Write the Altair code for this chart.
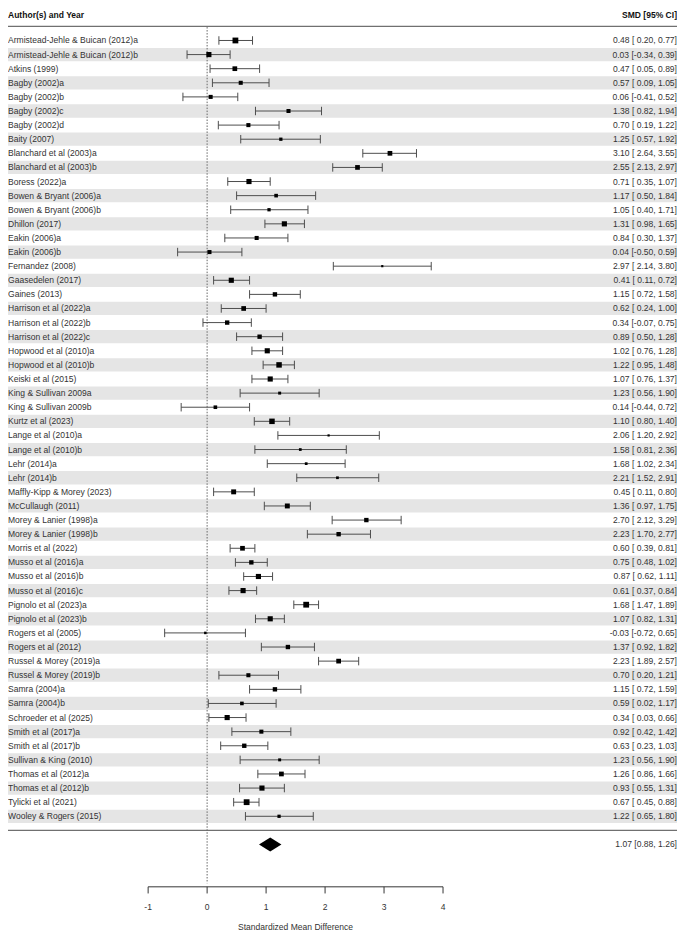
import altair as alt
import pandas as pd

labels = [
    "Armistead-Jehle & Buican (2012)a", "Armistead-Jehle & Buican (2012)b", "Atkins (1999)",
    "Bagby (2002)a", "Bagby (2002)b", "Bagby (2002)c", "Bagby (2002)d", "Baity (2007)",
    "Blanchard et al (2003)a", "Blanchard et al (2003)b", "Boress (2022)a",
    "Bowen & Bryant (2006)a", "Bowen & Bryant (2006)b", "Dhillon (2017)", "Eakin (2006)a",
    "Eakin (2006)b", "Fernandez (2008)", "Gaasedelen (2017)", "Gaines (2013)",
    "Harrison et al (2022)a", "Harrison et al (2022)b", "Harrison et al (2022)c",
    "Hopwood et al (2010)a", "Hopwood et al (2010)b", "Keiski et al (2015)",
    "King & Sullivan 2009a", "King & Sullivan 2009b", "Kurtz et al (2023)",
    "Lange et al (2010)a", "Lange et al (2010)b", "Lehr (2014)a", "Lehr (2014)b",
    "Maffly-Kipp & Morey (2023)", "McCullaugh (2011)", "Morey & Lanier (1998)a",
    "Morey & Lanier (1998)b", "Morris et al (2022)", "Musso et al (2016)a",
    "Musso et al (2016)b", "Musso et al (2016)c", "Pignolo et al (2023)a",
    "Pignolo et al (2023)b", "Rogers et al (2005)", "Rogers et al (2012)",
    "Russel & Morey (2019)a", "Russel & Morey (2019)b", "Samra (2004)a", "Samra (2004)b",
    "Schroeder et al (2025)", "Smith et al (2017)a", "Smith et al (2017)b",
    "Sullivan & King (2010)", "Thomas et al (2012)a", "Thomas et al (2012)b",
    "Tylicki et al (2021)", "Wooley & Rogers (2015)",
]
est = [0.48, 0.03, 0.47, 0.57, 0.06, 1.38, 0.70, 1.25, 3.10, 2.55, 0.71, 1.17, 1.05, 1.31,
       0.84, 0.04, 2.97, 0.41, 1.15, 0.62, 0.34, 0.89, 1.02, 1.22, 1.07, 1.23, 0.14, 1.10,
       2.06, 1.58, 1.68, 2.21, 0.45, 1.36, 2.70, 2.23, 0.60, 0.75, 0.87, 0.61, 1.68, 1.07,
       -0.03, 1.37, 2.23, 0.70, 1.15, 0.59, 0.34, 0.92, 0.63, 1.23, 1.26, 0.93, 0.67, 1.22]
ci_lo = [0.20, -0.34, 0.05, 0.09, -0.41, 0.82, 0.19, 0.57, 2.64, 2.13, 0.35, 0.50, 0.40, 0.98,
         0.30, -0.50, 2.14, 0.11, 0.72, 0.24, -0.07, 0.50, 0.76, 0.95, 0.76, 0.56, -0.44, 0.80,
         1.20, 0.81, 1.02, 1.52, 0.11, 0.97, 2.12, 1.70, 0.39, 0.48, 0.62, 0.37, 1.47, 0.82,
         -0.72, 0.92, 1.89, 0.20, 0.72, 0.02, 0.03, 0.42, 0.23, 0.56, 0.86, 0.55, 0.45, 0.65]
ci_hi = [0.77, 0.39, 0.89, 1.05, 0.52, 1.94, 1.22, 1.92, 3.55, 2.97, 1.07, 1.84, 1.71, 1.65,
         1.37, 0.59, 3.80, 0.72, 1.58, 1.00, 0.75, 1.28, 1.28, 1.48, 1.37, 1.90, 0.72, 1.40,
         2.92, 2.36, 2.34, 2.91, 0.80, 1.75, 3.29, 2.77, 0.81, 1.02, 1.11, 0.84, 1.89, 1.31,
         0.65, 1.82, 2.57, 1.21, 1.59, 1.17, 0.66, 1.42, 1.03, 1.90, 1.66, 1.31, 0.88, 1.80]
weights = [2.40, 2.13, 1.95, 1.68, 1.68, 1.68, 1.68, 1.36, 1.95, 1.95, 2.13, 1.50, 1.36, 2.13,
           1.68, 1.68, 0.91, 2.13, 1.81, 1.95, 1.81, 1.81, 2.13, 2.27, 2.13, 1.23, 1.50, 2.27,
           0.91, 1.13, 1.13, 1.13, 2.04, 2.04, 1.81, 1.81, 1.95, 1.81, 2.13, 2.13, 2.40, 2.13,
           1.04, 1.81, 1.95, 1.68, 1.81, 1.50, 2.13, 1.68, 1.81, 1.23, 1.95, 2.13, 2.40, 1.36]
summary_est = [1.07]
summary_lo = [0.88]
summary_hi = [1.26]
tick_values = [-1, 0, 1, 2, 3, 4]
x_title = "Standardized Mean Difference"
header_left = "Author(s) and Year"
header_right = "SMD [95% CI]"

# ---- layout constants (pixels) ----
W, H = 673, 926
ZERO_PX, PX_PER_UNIT = 200.3, 59.33
ROW0_PX, ROW_PX = 29.9, 14.19
FONT = "Liberation Sans"
FS = 8.6
TXT = "#333333"

n = len(labels)
df = pd.DataFrame({"label": labels, "est": est, "lo": ci_lo, "hi": ci_hi, "w": weights})
df["row"] = list(range(n))
df["txt"] = [f"{e:.2f} [{l:5.2f}, {h:.2f}]" for e, l, h in zip(est, ci_lo, ci_hi)]
df["c1"] = df["row"] - 0.3
df["c2"] = df["row"] + 0.3

bands = df[df["row"] % 2 == 1].copy()
bands["b1"] = bands["row"] - 0.47
bands["b2"] = bands["row"] + 0.47

caps = pd.concat([
    df[["lo", "c1", "c2"]].rename(columns={"lo": "x"}),
    df[["hi", "c1", "c2"]].rename(columns={"hi": "x"}),
])

xs = alt.Scale(domain=[-ZERO_PX / PX_PER_UNIT, (W - ZERO_PX) / PX_PER_UNIT], nice=False, zero=False)
ys = alt.Scale(domain=[-ROW0_PX / ROW_PX, (H - ROW0_PX) / ROW_PX], nice=False, zero=False, reverse=True)


def X(f):
    return alt.X(f, type="quantitative", scale=xs, axis=None)


def Y(f):
    return alt.Y(f, type="quantitative", scale=ys, axis=None)


band_layer = alt.Chart(bands).mark_rect(color="#e5e5e5").encode(
    x=alt.value(0), x2=alt.value(W), y=Y("b1"), y2=alt.Y2("b2"))

hlines = alt.Chart(pd.DataFrame({"y": [-1, n]})).mark_rule(color="#707070", strokeWidth=1.4).encode(
    x=alt.value(0), x2=alt.value(W), y=Y("y"))

zero_line = alt.Chart(pd.DataFrame({"x": [0], "y1": [-0.95], "y2": [n + 3.75]})).mark_rule(
    color="#666666", strokeWidth=1, strokeDash=[1.5, 1.5]).encode(x=X("x"), y=Y("y1"), y2=alt.Y2("y2"))

ci_layer = alt.Chart(df).mark_rule(color="#4d4d4d", strokeWidth=1).encode(
    x=X("lo"), x2=alt.X2("hi"), y=Y("row"))

cap_layer = alt.Chart(caps).mark_rule(color="#4d4d4d", strokeWidth=1).encode(
    x=X("x"), y=Y("c1"), y2=alt.Y2("c2"))

sq_layer = alt.Chart(df).mark_square(color="black", opacity=1, filled=True, strokeWidth=0).encode(
    x=X("est"), y=Y("row"),
    size=alt.Size("w:Q", scale=alt.Scale(type="pow", exponent=2, domain=[0, 2.4], range=[0, 34]), legend=None))

left_txt = alt.Chart(df).mark_text(align="left", baseline="middle", font=FONT, fontSize=FS, color=TXT).encode(
    x=alt.value(0), y=Y("row"), text="label:N")

right_txt = alt.Chart(df).mark_text(align="right", baseline="middle", font=FONT, fontSize=FS, color=TXT).encode(
    x=alt.value(W), y=Y("row"), text="txt:N")

hdr = pd.DataFrame({"y": [-1.78], "l": [header_left], "r": [header_right]})
hdr_l = alt.Chart(hdr).mark_text(align="left", baseline="middle", font=FONT, fontSize=FS,
                                 fontWeight="bold", color="#111111").encode(x=alt.value(0), y=Y("y"), text="l:N")
hdr_r = alt.Chart(hdr).mark_text(align="right", baseline="middle", font=FONT, fontSize=FS,
                                 fontWeight="bold", color="#111111").encode(x=alt.value(W), y=Y("y"), text="r:N")

sy = n + 1
dia = pd.DataFrame({
    "x": [summary_lo[0], summary_est[0], summary_hi[0]],
    "y1": [sy, sy - 0.49, sy],
    "y2": [sy, sy + 0.49, sy],
})
dia_layer = alt.Chart(dia).mark_area(color="black", orient="vertical", opacity=1).encode(
    x=X("x"), y=Y("y1"), y2=alt.Y2("y2"))

sum_txt = alt.Chart(pd.DataFrame({
    "y": [sy], "t": [f"{summary_est[0]:.2f} [{summary_lo[0]:.2f}, {summary_hi[0]:.2f}]"]})).mark_text(
    align="right", baseline="middle", font=FONT, fontSize=FS, color=TXT).encode(
    x=alt.value(W), y=Y("y"), text="t:N")

ay = n + 4
axis_line = alt.Chart(pd.DataFrame({"x1": [tick_values[0]], "x2": [tick_values[-1]], "y": [ay]})).mark_rule(
    color="#333333", strokeWidth=1).encode(x=X("x1"), x2=alt.X2("x2"), y=Y("y"))
ticks_df = pd.DataFrame({"x": tick_values, "y1": [ay] * len(tick_values), "y2": [ay + 0.47] * len(tick_values),
                         "yl": [ay + 1.46] * len(tick_values), "t": [str(v) for v in tick_values]})
tick_layer = alt.Chart(ticks_df).mark_rule(color="#333333", strokeWidth=1).encode(
    x=X("x"), y=Y("y1"), y2=alt.Y2("y2"))
tick_lbl = alt.Chart(ticks_df).mark_text(align="center", baseline="middle", font=FONT, fontSize=FS, color=TXT).encode(
    x=X("x"), y=Y("yl"), text="t:N")
title_lbl = alt.Chart(pd.DataFrame({"x": [(tick_values[0] + tick_values[-1]) / 2], "y": [ay + 2.85],
                                    "t": [x_title]})).mark_text(
    align="center", baseline="middle", font=FONT, fontSize=FS, color=TXT).encode(x=X("x"), y=Y("y"), text="t:N")

chart = alt.layer(
    band_layer, hlines, zero_line, ci_layer, cap_layer, sq_layer, left_txt, right_txt,
    hdr_l, hdr_r, dia_layer, sum_txt, axis_line, tick_layer, tick_lbl, title_lbl,
).properties(
    width=W, height=H, autosize=alt.AutoSizeParams(type="none"), padding=0, background="white"
).configure_view(strokeWidth=0)

chart.save("out.html", embed_options={"renderer": "svg", "actions": False})
